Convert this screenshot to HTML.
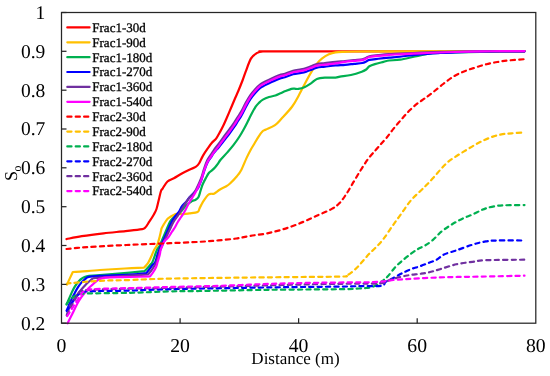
<!DOCTYPE html>
<html><head><meta charset="utf-8"><title>So vs Distance</title>
<style>
html,body{margin:0;padding:0;background:#fff;}
body{width:550px;height:376px;overflow:hidden;}
svg{display:block;font-family:"Liberation Serif","Times New Roman",serif;text-rendering:geometricPrecision;}
</style></head><body>
<svg width="550" height="376" viewBox="0 0 550 376">
<rect x="0" y="0" width="550" height="376" fill="#fff"/>
<g fill="none" stroke-width="2.20" stroke-linejoin="round">
<path d="M66.50,239.10 C69.05,238.62 75.62,237.17 81.80,236.20 C87.98,235.23 96.32,234.15 103.60,233.30 C110.88,232.45 119.43,231.77 125.50,231.10 C131.57,230.43 136.80,229.78 140.00,229.30 C143.20,228.82 143.15,229.47 144.70,228.20 C146.25,226.93 147.75,224.03 149.30,221.70 C150.85,219.37 152.80,216.32 154.00,214.20 C155.20,212.08 155.75,211.20 156.50,209.00 C157.25,206.80 157.75,204.00 158.50,201.00 C159.25,198.00 160.28,193.12 161.00,191.00 C161.72,188.88 161.72,189.88 162.80,188.30 C163.88,186.72 165.65,183.17 167.50,181.50 C169.35,179.83 171.50,179.63 173.90,178.30 C176.30,176.97 179.23,174.97 181.90,173.50 C184.57,172.03 187.60,170.60 189.90,169.50 C192.20,168.40 194.18,167.90 195.70,166.90 C197.22,165.90 197.78,165.38 199.00,163.50 C200.22,161.62 201.45,158.25 203.00,155.60 C204.55,152.95 206.75,149.82 208.30,147.60 C209.85,145.38 210.97,143.85 212.30,142.30 C213.63,140.75 214.98,140.08 216.30,138.30 C217.62,136.52 218.98,133.82 220.20,131.60 C221.42,129.38 222.57,127.15 223.60,125.00 C224.63,122.85 225.13,121.62 226.40,118.70 C227.67,115.78 229.73,110.95 231.20,107.50 C232.67,104.05 234.02,100.75 235.20,98.00 C236.38,95.25 237.05,94.00 238.30,91.00 C239.55,88.00 241.48,83.18 242.70,80.00 C243.92,76.82 244.23,75.47 245.60,71.90 C246.97,68.33 249.12,61.67 250.90,58.60 C252.68,55.53 254.30,54.68 256.30,53.50 C258.30,52.32 258.12,51.86 262.90,51.50 C267.68,51.14 241.40,51.38 285.00,51.35 C328.60,51.32 484.58,51.31 524.50,51.30" stroke="#FF0000" stroke-linecap="round"/>
<path d="M67.00,284.40 C67.97,282.33 72.80,272.00 72.80,272.00 C72.80,272.00 75.47,271.93 80.00,271.60 C84.53,271.27 92.50,270.52 100.00,270.00 C107.50,269.48 117.65,268.90 125.00,268.50 C132.35,268.10 144.10,267.60 144.10,267.60 C144.10,267.60 145.75,265.93 146.50,265.00 C147.25,264.07 147.77,263.50 148.60,262.00 C149.43,260.50 150.58,258.00 151.50,256.00 C152.42,254.00 153.15,251.83 154.10,250.00 C155.05,248.17 156.28,247.17 157.20,245.00 C158.12,242.83 158.88,239.75 159.60,237.00 C160.32,234.25 161.50,228.50 161.50,228.50 C161.50,228.50 162.78,225.92 163.80,224.30 C164.82,222.68 166.35,220.15 167.60,218.80 C168.85,217.45 169.98,217.00 171.30,216.20 C172.62,215.40 174.38,214.43 175.50,214.00 C176.62,213.57 176.65,213.58 178.00,213.60 C179.35,213.62 181.73,214.13 183.60,214.10 C185.47,214.07 186.87,213.77 189.20,213.40 C191.53,213.03 195.88,212.72 197.60,211.90 C199.32,211.08 198.88,209.67 199.50,208.50 C200.12,207.33 200.53,206.28 201.30,204.90 C202.07,203.52 202.98,201.85 204.10,200.20 C205.22,198.55 206.85,196.07 208.00,195.00 C209.15,193.93 210.00,194.02 211.00,193.80 C212.00,193.58 212.50,194.42 214.00,193.70 C215.50,192.98 218.02,190.70 220.00,189.50 C221.98,188.30 224.23,187.50 225.90,186.50 C227.57,185.50 228.20,185.17 230.00,183.50 C231.80,181.83 234.82,178.77 236.70,176.50 C238.58,174.23 239.65,173.00 241.30,169.90 C242.95,166.80 245.05,161.22 246.60,157.90 C248.15,154.58 249.27,152.43 250.60,150.00 C251.93,147.57 253.27,145.53 254.60,143.30 C255.93,141.07 257.27,138.60 258.60,136.60 C259.93,134.60 261.37,132.47 262.60,131.30 C263.83,130.13 263.93,130.63 266.00,129.60 C268.07,128.57 272.40,126.95 275.00,125.10 C277.60,123.25 278.73,121.60 281.60,118.50 C284.47,115.40 289.30,110.42 292.20,106.50 C295.10,102.58 296.65,99.27 299.00,95.00 C301.35,90.73 304.20,84.80 306.30,80.90 C308.40,77.00 309.83,74.48 311.60,71.60 C313.37,68.72 315.13,65.82 316.90,63.60 C318.67,61.38 320.20,59.85 322.20,58.30 C324.20,56.75 326.68,55.30 328.90,54.30 C331.12,53.30 332.82,52.72 335.50,52.30 C338.18,51.88 340.92,51.93 345.00,51.80 C349.08,51.67 350.83,51.58 360.00,51.50 C369.17,51.42 386.67,51.37 400.00,51.30 C413.33,51.23 419.25,51.15 440.00,51.10 C460.75,51.05 510.42,51.02 524.50,51.00" stroke="#FFC000" stroke-linecap="round"/>
<path d="M66.60,304.50 C66.83,303.92 67.53,302.08 68.00,301.00 C68.47,299.92 68.77,299.43 69.40,298.00 C70.03,296.57 71.00,294.13 71.80,292.40 C72.60,290.67 73.40,289.00 74.20,287.60 C75.00,286.20 75.80,285.10 76.60,284.00 C77.40,282.90 78.10,281.92 79.00,281.00 C79.90,280.08 80.72,279.28 82.00,278.50 C83.28,277.72 83.70,276.85 86.70,276.30 C89.70,275.75 92.78,275.82 100.00,275.20 C107.22,274.58 122.55,273.28 130.00,272.60 C137.45,271.92 144.70,271.10 144.70,271.10 C144.70,271.10 147.03,268.60 148.00,267.50 C148.97,266.40 149.75,265.42 150.50,264.50 C151.25,263.58 151.43,264.42 152.50,262.00 C153.57,259.58 155.72,252.67 156.90,250.00 C158.08,247.33 158.73,247.67 159.60,246.00 C160.47,244.33 161.25,242.00 162.10,240.00 C162.95,238.00 163.85,236.00 164.70,234.00 C165.55,232.00 166.35,230.00 167.20,228.00 C168.05,226.00 168.90,223.58 169.80,222.00 C170.70,220.42 171.57,219.58 172.60,218.50 C173.63,217.42 174.73,216.53 176.00,215.50 C177.27,214.47 178.62,213.83 180.20,212.30 C181.78,210.77 183.53,208.15 185.50,206.30 C187.47,204.45 190.38,202.25 192.00,201.20 C193.62,200.15 194.13,200.67 195.20,200.00 C196.27,199.33 197.52,198.72 198.40,197.20 C199.28,195.68 199.80,193.02 200.50,190.90 C201.20,188.78 201.72,186.63 202.60,184.50 C203.48,182.37 204.73,180.05 205.80,178.10 C206.87,176.15 207.93,174.13 209.00,172.80 C210.07,171.47 211.13,171.08 212.20,170.10 C213.27,169.12 214.43,167.97 215.40,166.90 C216.37,165.83 217.17,164.85 218.00,163.70 C218.83,162.55 218.80,161.93 220.40,160.00 C222.00,158.07 225.40,154.62 227.60,152.10 C229.80,149.58 231.62,147.50 233.60,144.90 C235.58,142.30 237.72,139.28 239.50,136.50 C241.28,133.72 242.88,130.78 244.30,128.20 C245.72,125.62 246.95,123.07 248.00,121.00 C249.05,118.93 249.35,118.17 250.60,115.80 C251.85,113.43 254.07,109.00 255.50,106.80 C256.93,104.60 257.97,103.80 259.20,102.60 C260.43,101.40 261.27,100.53 262.90,99.60 C264.53,98.67 266.92,97.68 269.00,97.00 C271.08,96.32 273.48,96.12 275.40,95.50 C277.32,94.88 278.82,94.03 280.50,93.30 C282.18,92.57 283.68,91.83 285.50,91.10 C287.32,90.37 289.90,89.30 291.40,88.90 C292.90,88.50 293.35,88.70 294.50,88.70 C295.65,88.70 296.57,89.20 298.30,88.90 C300.03,88.60 302.68,87.90 304.90,86.90 C307.12,85.90 309.60,84.23 311.60,82.90 C313.60,81.57 314.68,79.78 316.90,78.90 C319.12,78.02 321.80,77.82 324.90,77.60 C328.00,77.38 332.98,77.77 335.50,77.60 C338.02,77.43 337.43,77.03 340.00,76.60 C342.57,76.17 347.27,75.82 350.90,75.00 C354.53,74.18 359.25,72.62 361.80,71.70 C364.35,70.78 364.93,70.40 366.20,69.50 C367.47,68.60 367.95,67.20 369.40,66.30 C370.85,65.40 372.53,64.83 374.90,64.10 C377.27,63.37 381.23,62.50 383.60,61.90 C385.97,61.30 386.37,60.87 389.10,60.50 C391.83,60.13 395.68,60.37 400.00,59.70 C404.32,59.03 410.17,57.50 415.00,56.50 C419.83,55.50 424.83,54.30 429.00,53.70 C433.17,53.10 435.67,53.10 440.00,52.90 C444.33,52.70 448.33,52.68 455.00,52.50 C461.67,52.32 472.50,51.98 480.00,51.80 C487.50,51.62 492.58,51.48 500.00,51.40 C507.42,51.32 520.42,51.32 524.50,51.30" stroke="#00B050" stroke-linecap="round"/>
<path d="M66.70,310.50 C67.05,309.67 68.08,307.18 68.80,305.50 C69.52,303.82 69.97,302.58 71.00,300.40 C72.03,298.22 73.80,294.67 75.00,292.40 C76.20,290.13 77.13,288.43 78.20,286.80 C79.27,285.17 80.35,283.80 81.40,282.60 C82.45,281.40 83.27,280.55 84.50,279.60 C85.73,278.65 86.22,277.53 88.80,276.90 C91.38,276.27 93.13,276.18 100.00,275.80 C106.87,275.42 122.25,275.07 130.00,274.60 C137.75,274.13 146.50,273.00 146.50,273.00 C146.50,273.00 148.50,270.33 149.50,269.00 C150.50,267.67 151.53,266.17 152.50,265.00 C153.47,263.83 154.38,264.00 155.30,262.00 C156.22,260.00 157.15,255.50 158.00,253.00 C158.85,250.50 159.53,249.03 160.40,247.00 C161.27,244.97 162.27,242.88 163.20,240.80 C164.13,238.72 165.07,236.60 166.00,234.50 C166.93,232.40 167.87,230.28 168.80,228.20 C169.73,226.12 170.62,223.87 171.60,222.00 C172.58,220.13 173.52,218.67 174.70,217.00 C175.88,215.33 177.45,213.83 178.70,212.00 C179.95,210.17 180.90,207.75 182.20,206.00 C183.50,204.25 185.23,203.00 186.50,201.50 C187.77,200.00 187.97,199.11 189.80,197.00 C191.63,194.89 195.83,191.01 197.50,188.82 C199.17,186.62 199.12,185.42 199.80,183.84 C200.48,182.27 200.83,181.62 201.60,179.36 C202.37,177.10 203.42,173.12 204.40,170.29 C205.38,167.47 206.45,164.53 207.50,162.43 C208.55,160.32 209.63,159.25 210.70,157.66 C211.77,156.08 212.52,154.69 213.90,152.90 C215.28,151.11 217.28,149.01 219.00,146.93 C220.72,144.84 222.45,142.60 224.20,140.38 C225.95,138.15 227.83,135.83 229.50,133.60 C231.17,131.37 232.83,129.02 234.20,127.00 C235.57,124.98 236.48,123.42 237.70,121.50 C238.92,119.58 240.18,117.85 241.50,115.50 C242.82,113.15 244.12,110.12 245.60,107.40 C247.08,104.68 248.80,101.60 250.40,99.20 C252.00,96.80 253.60,94.83 255.20,93.00 C256.80,91.17 258.42,89.47 260.00,88.20 C261.58,86.93 262.77,86.43 264.70,85.40 C266.63,84.37 269.12,83.13 271.60,82.00 C274.08,80.87 277.38,79.38 279.60,78.60 C281.82,77.82 282.67,78.02 284.90,77.30 C287.13,76.58 290.32,75.03 293.00,74.30 C295.68,73.57 298.78,73.35 301.00,72.90 C303.22,72.45 304.53,72.15 306.30,71.60 C308.07,71.05 309.83,70.27 311.60,69.60 C313.37,68.93 314.68,68.08 316.90,67.60 C319.12,67.12 321.80,67.06 324.90,66.70 C328.00,66.34 332.15,65.77 335.50,65.45 C338.85,65.13 341.92,65.06 345.00,64.80 C348.08,64.54 351.12,64.16 354.00,63.86 C356.88,63.57 360.27,63.42 362.30,63.03 C364.33,62.64 365.02,62.04 366.20,61.52 C367.38,60.99 367.40,60.36 369.40,59.90 C371.40,59.44 374.92,59.15 378.20,58.77 C381.48,58.39 385.47,57.96 389.10,57.62 C392.73,57.29 394.85,57.29 400.00,56.74 C405.15,56.19 413.33,54.92 420.00,54.30 C426.67,53.68 434.17,53.31 440.00,53.00 C445.83,52.69 448.33,52.64 455.00,52.42 C461.67,52.21 472.50,51.85 480.00,51.70 C487.50,51.55 492.58,51.53 500.00,51.50 C507.42,51.47 520.42,51.50 524.50,51.50" stroke="#0000FF" stroke-linecap="round"/>
<path d="M66.90,315.50 C67.45,313.77 68.85,308.02 70.20,305.10 C71.55,302.18 73.53,300.12 75.00,298.00 C76.47,295.88 77.53,294.27 79.00,292.40 C80.47,290.53 82.35,288.43 83.80,286.80 C85.25,285.17 86.50,283.73 87.70,282.60 C88.90,281.47 90.03,280.73 91.00,280.00 C91.97,279.27 92.00,278.60 93.50,278.20 C95.00,277.80 93.92,278.03 100.00,277.60 C106.08,277.17 122.00,276.12 130.00,275.60 C138.00,275.08 148.00,274.50 148.00,274.50 C148.00,274.50 150.00,272.33 151.00,271.00 C152.00,269.67 153.08,268.00 154.00,266.50 C154.92,265.00 155.67,264.08 156.50,262.00 C157.33,259.92 158.25,256.33 159.00,254.00 C159.75,251.67 160.15,250.08 161.00,248.00 C161.85,245.92 163.07,243.67 164.10,241.50 C165.13,239.33 166.17,237.17 167.20,235.00 C168.23,232.83 169.25,230.67 170.30,228.50 C171.35,226.33 172.40,223.92 173.50,222.00 C174.60,220.08 175.78,218.67 176.90,217.00 C178.02,215.33 179.07,213.83 180.20,212.00 C181.33,210.17 182.57,207.83 183.70,206.00 C184.83,204.17 185.95,202.50 187.00,201.00 C188.05,199.50 188.83,198.32 190.00,197.00 C191.17,195.68 192.75,194.85 194.00,193.10 C195.25,191.36 196.53,188.46 197.50,186.52 C198.47,184.58 199.12,183.06 199.80,181.46 C200.48,179.87 200.83,179.21 201.60,176.92 C202.37,174.64 203.42,170.61 204.40,167.75 C205.38,164.90 206.45,161.92 207.50,159.78 C208.55,157.64 209.63,156.53 210.70,154.90 C211.77,153.28 212.52,151.94 213.90,150.03 C215.28,148.11 217.28,145.70 219.00,143.40 C220.72,141.10 222.45,138.57 224.20,136.20 C225.95,133.83 227.83,131.47 229.50,129.20 C231.17,126.93 232.83,124.62 234.20,122.60 C235.57,120.58 236.48,119.02 237.70,117.10 C238.92,115.18 240.18,113.44 241.50,111.10 C242.82,108.76 244.12,105.70 245.60,103.03 C247.08,100.36 248.80,97.40 250.40,95.09 C252.00,92.77 253.60,90.89 255.20,89.14 C256.80,87.40 258.42,85.82 260.00,84.60 C261.58,83.38 262.77,82.83 264.70,81.80 C266.63,80.77 269.12,79.53 271.60,78.40 C274.08,77.27 277.38,75.78 279.60,75.00 C281.82,74.22 282.67,74.42 284.90,73.70 C287.13,72.98 290.32,71.43 293.00,70.70 C295.68,69.97 298.78,69.75 301.00,69.30 C303.22,68.85 304.53,68.55 306.30,68.00 C308.07,67.45 309.83,66.67 311.60,66.00 C313.37,65.33 314.68,64.48 316.90,64.00 C319.12,63.52 321.80,63.46 324.90,63.10 C328.00,62.74 332.15,62.19 335.50,61.84 C338.85,61.49 341.92,61.29 345.00,61.00 C348.08,60.71 351.12,60.40 354.00,60.12 C356.88,59.85 360.27,59.72 362.30,59.35 C364.33,58.97 365.02,58.37 366.20,57.86 C367.38,57.34 367.40,56.71 369.40,56.27 C371.40,55.82 374.92,55.55 378.20,55.19 C381.48,54.83 385.47,54.38 389.10,54.12 C392.73,53.86 394.85,53.89 400.00,53.65 C405.15,53.41 413.33,52.99 420.00,52.70 C426.67,52.42 434.17,52.16 440.00,51.96 C445.83,51.76 448.33,51.59 455.00,51.50 C461.67,51.41 472.50,51.45 480.00,51.40 C487.50,51.35 492.58,51.23 500.00,51.20 C507.42,51.17 520.42,51.20 524.50,51.20" stroke="#7030A0" stroke-linecap="round"/>
<path d="M67.60,323.30 C68.33,321.83 70.37,317.80 72.00,314.50 C73.63,311.20 75.83,306.38 77.40,303.50 C78.97,300.62 80.22,298.92 81.40,297.20 C82.58,295.48 83.57,294.40 84.50,293.20 C85.43,292.00 86.07,291.07 87.00,290.00 C87.93,288.93 89.10,287.77 90.10,286.80 C91.10,285.83 92.13,284.97 93.00,284.20 C93.87,283.43 94.47,282.90 95.30,282.20 C96.13,281.50 97.10,280.60 98.00,280.00 C98.90,279.40 99.53,278.98 100.70,278.60 C101.87,278.22 103.45,277.92 105.00,277.70 C106.55,277.48 105.83,277.42 110.00,277.30 C114.17,277.18 123.32,277.17 130.00,277.00 C136.68,276.83 150.10,276.30 150.10,276.30 C150.10,276.30 152.00,274.05 153.00,272.50 C154.00,270.95 155.33,268.75 156.10,267.00 C156.87,265.25 157.00,264.00 157.60,262.00 C158.20,260.00 159.20,257.00 159.70,255.00 C160.20,253.00 160.25,251.33 160.60,250.00 C160.95,248.67 161.32,248.17 161.80,247.00 C162.28,245.83 162.97,244.08 163.50,243.00 C164.03,241.92 164.33,241.28 165.00,240.50 C165.67,239.72 166.78,239.05 167.50,238.30 C168.22,237.55 168.58,237.05 169.30,236.00 C170.02,234.95 170.93,233.33 171.80,232.00 C172.67,230.67 173.50,229.67 174.50,228.00 C175.50,226.33 176.70,223.83 177.80,222.00 C178.90,220.17 180.02,218.67 181.10,217.00 C182.18,215.33 183.25,213.83 184.30,212.00 C185.35,210.17 186.40,207.88 187.40,206.00 C188.40,204.12 189.20,202.53 190.30,200.70 C191.40,198.87 192.80,197.03 194.00,195.00 C195.20,192.97 196.53,190.42 197.50,188.50 C198.47,186.58 199.12,185.08 199.80,183.50 C200.48,181.92 200.83,181.27 201.60,179.00 C202.37,176.73 203.42,172.73 204.40,169.90 C205.38,167.07 206.45,164.12 207.50,162.00 C208.55,159.88 209.63,158.80 210.70,157.20 C211.77,155.60 212.52,154.30 213.90,152.40 C215.28,150.50 217.28,148.10 219.00,145.80 C220.72,143.50 222.45,140.97 224.20,138.60 C225.95,136.23 227.83,133.87 229.50,131.60 C231.17,129.33 232.83,127.02 234.20,125.00 C235.57,122.98 236.48,121.42 237.70,119.50 C238.92,117.58 240.18,115.85 241.50,113.50 C242.82,111.15 244.12,108.12 245.60,105.40 C247.08,102.68 248.80,99.60 250.40,97.20 C252.00,94.80 253.60,92.83 255.20,91.00 C256.80,89.17 258.42,87.47 260.00,86.20 C261.58,84.93 262.77,84.43 264.70,83.40 C266.63,82.37 269.12,81.13 271.60,80.00 C274.08,78.87 277.38,77.38 279.60,76.60 C281.82,75.82 282.67,76.02 284.90,75.30 C287.13,74.58 290.32,73.03 293.00,72.30 C295.68,71.57 298.78,71.35 301.00,70.90 C303.22,70.45 304.53,70.15 306.30,69.60 C308.07,69.05 309.83,68.27 311.60,67.60 C313.37,66.93 314.68,66.08 316.90,65.60 C319.12,65.12 321.80,65.07 324.90,64.70 C328.00,64.33 332.15,63.88 335.50,63.40 C338.85,62.92 341.92,62.22 345.00,61.80 C348.08,61.38 351.12,61.18 354.00,60.90 C356.88,60.62 360.27,60.48 362.30,60.10 C364.33,59.72 365.02,59.12 366.20,58.60 C367.38,58.08 367.40,57.45 369.40,57.00 C371.40,56.55 374.92,56.27 378.20,55.90 C381.48,55.53 385.47,55.07 389.10,54.80 C392.73,54.53 394.85,54.55 400.00,54.30 C405.15,54.05 413.33,53.60 420.00,53.30 C426.67,53.00 434.17,52.72 440.00,52.50 C445.83,52.28 448.33,52.18 455.00,52.00 C461.67,51.82 472.50,51.53 480.00,51.40 C487.50,51.27 492.58,51.23 500.00,51.20 C507.42,51.17 520.42,51.20 524.50,51.20" stroke="#FF00FF" stroke-linecap="round"/>
<path d="M66.50,249.00 C69.08,248.75 76.42,247.93 82.00,247.50 C87.58,247.07 93.67,246.77 100.00,246.40 C106.33,246.03 113.33,245.63 120.00,245.30 C126.67,244.97 131.67,244.75 140.00,244.40 C148.33,244.05 160.00,243.63 170.00,243.20 C180.00,242.77 191.97,242.27 200.00,241.80 C208.03,241.33 212.13,240.95 218.20,240.40 C224.27,239.85 231.10,239.25 236.40,238.50 C241.70,237.75 245.00,236.73 250.00,235.90 C255.00,235.07 260.95,234.58 266.40,233.50 C271.85,232.42 277.25,231.05 282.70,229.40 C288.15,227.75 293.63,225.78 299.10,223.60 C304.57,221.42 310.05,218.75 315.50,216.30 C320.95,213.85 327.75,211.15 331.80,208.90 C335.85,206.65 337.32,205.38 339.80,202.80 C342.28,200.22 344.35,196.97 346.70,193.40 C349.05,189.83 351.50,185.38 353.90,181.40 C356.30,177.42 358.70,173.28 361.10,169.50 C363.50,165.72 365.90,161.90 368.30,158.70 C370.70,155.50 373.38,152.75 375.50,150.30 C377.62,147.85 379.15,146.08 381.00,144.00 C382.85,141.92 384.60,140.23 386.60,137.80 C388.60,135.37 390.60,132.38 393.00,129.40 C395.40,126.42 398.35,122.95 401.00,119.90 C403.65,116.85 406.25,113.77 408.90,111.10 C411.55,108.43 414.23,106.03 416.90,103.90 C419.57,101.77 422.25,100.22 424.90,98.30 C427.55,96.38 429.75,94.78 432.80,92.40 C435.85,90.02 439.72,86.67 443.20,84.00 C446.68,81.33 450.13,78.53 453.70,76.40 C457.27,74.27 460.97,72.68 464.60,71.20 C468.23,69.72 471.87,68.67 475.50,67.50 C479.13,66.33 482.77,65.12 486.40,64.20 C490.03,63.28 493.65,62.62 497.30,62.00 C500.95,61.38 503.77,60.97 508.30,60.50 C512.83,60.03 521.80,59.42 524.50,59.20" stroke="#FF0000" stroke-dasharray="4.2 4.2" stroke-linecap="round"/>
<path d="M67.00,284.40 C67.57,284.20 64.90,283.80 70.40,283.20 C75.90,282.60 90.07,281.33 100.00,280.80 C109.93,280.27 118.33,280.37 130.00,280.00 C141.67,279.63 146.67,279.05 170.00,278.60 C193.33,278.15 241.67,277.63 270.00,277.30 C298.33,276.97 327.42,276.85 340.00,276.60 C352.58,276.35 343.83,276.30 345.50,275.80 C347.17,275.30 348.42,274.65 350.00,273.60 C351.58,272.55 353.40,270.97 355.00,269.50 C356.60,268.03 358.02,266.52 359.60,264.80 C361.18,263.08 362.90,261.03 364.50,259.20 C366.10,257.37 367.45,255.62 369.20,253.80 C370.95,251.98 372.70,250.67 375.00,248.30 C377.30,245.93 380.17,243.22 383.00,239.60 C385.83,235.98 388.92,230.97 392.00,226.60 C395.08,222.23 398.32,217.80 401.50,213.40 C404.68,209.00 407.90,203.98 411.10,200.20 C414.30,196.42 418.05,193.32 420.70,190.70 C423.35,188.08 424.85,186.70 427.00,184.50 C429.15,182.30 431.28,180.07 433.60,177.50 C435.92,174.93 438.47,171.72 440.90,169.10 C443.33,166.48 445.47,164.07 448.20,161.80 C450.93,159.53 454.27,157.47 457.30,155.50 C460.33,153.53 463.37,151.83 466.40,150.00 C469.43,148.17 472.48,146.17 475.50,144.50 C478.52,142.83 481.48,141.35 484.50,140.00 C487.52,138.65 490.57,137.37 493.60,136.40 C496.63,135.43 499.67,134.72 502.70,134.20 C505.73,133.68 508.17,133.60 511.80,133.30 C515.43,133.00 522.38,132.55 524.50,132.40" stroke="#FFC000" stroke-dasharray="4.2 4.2" stroke-linecap="round"/>
<path d="M66.60,304.00 C67.50,303.00 70.10,299.58 72.00,298.00 C73.90,296.42 75.83,295.25 78.00,294.50 C80.17,293.75 76.33,293.78 85.00,293.50 C93.67,293.22 115.83,293.15 130.00,292.80 C144.17,292.45 158.33,291.70 170.00,291.40 C181.67,291.10 183.33,291.27 200.00,291.00 C216.67,290.73 246.67,290.10 270.00,289.80 C293.33,289.50 325.17,289.42 340.00,289.20 C354.83,288.98 354.82,288.68 359.00,288.50 C363.18,288.32 362.93,288.35 365.10,288.10 C367.27,287.85 369.82,287.65 372.00,287.00 C374.18,286.35 376.37,285.28 378.20,284.20 C380.03,283.12 381.40,281.82 383.00,280.50 C384.60,279.18 385.68,278.60 387.80,276.30 C389.92,274.00 393.05,269.50 395.70,266.70 C398.35,263.90 401.03,261.77 403.70,259.50 C406.37,257.23 409.32,254.85 411.70,253.10 C414.08,251.35 415.78,250.27 418.00,249.00 C420.22,247.73 422.50,247.02 425.00,245.50 C427.50,243.98 430.33,242.17 433.00,239.90 C435.67,237.63 438.35,234.17 441.00,231.90 C443.65,229.63 446.25,228.03 448.90,226.30 C451.55,224.57 454.23,222.97 456.90,221.50 C459.57,220.03 462.25,218.68 464.90,217.50 C467.55,216.32 470.15,215.58 472.80,214.40 C475.45,213.22 478.43,211.47 480.80,210.40 C483.17,209.33 484.80,208.68 487.00,208.00 C489.20,207.32 491.20,206.75 494.00,206.30 C496.80,205.85 498.72,205.50 503.80,205.30 C508.88,205.10 521.05,205.13 524.50,205.10" stroke="#00B050" stroke-dasharray="4.2 4.2" stroke-linecap="round"/>
<path d="M66.80,311.00 C67.67,309.67 70.13,305.67 72.00,303.00 C73.87,300.33 75.67,296.92 78.00,295.00 C80.33,293.08 77.33,292.23 86.00,291.50 C94.67,290.77 116.00,290.98 130.00,290.60 C144.00,290.22 146.67,289.73 170.00,289.20 C193.33,288.67 241.67,287.83 270.00,287.40 C298.33,286.97 325.00,286.82 340.00,286.60 C355.00,286.38 353.07,286.23 360.00,286.10 C366.93,285.97 377.35,286.48 381.60,285.80 C385.85,285.12 383.37,283.38 385.50,282.00 C387.63,280.62 391.65,278.95 394.40,277.50 C397.15,276.05 399.25,274.68 402.00,273.30 C404.75,271.92 407.93,270.37 410.90,269.20 C413.87,268.03 416.75,267.38 419.80,266.30 C422.85,265.22 426.33,263.83 429.20,262.70 C432.07,261.57 434.53,260.87 437.00,259.50 C439.47,258.13 440.77,256.02 444.00,254.50 C447.23,252.98 451.62,252.05 456.40,250.40 C461.18,248.75 467.80,246.10 472.70,244.60 C477.60,243.10 481.70,242.08 485.80,241.40 C489.90,240.72 490.85,240.65 497.30,240.50 C503.75,240.35 519.97,240.50 524.50,240.50" stroke="#0000FF" stroke-dasharray="4.2 4.2" stroke-linecap="round"/>
<path d="M66.80,315.00 C67.67,313.33 70.13,308.33 72.00,305.00 C73.87,301.67 75.83,297.45 78.00,295.00 C80.17,292.55 76.33,291.37 85.00,290.30 C93.67,289.23 115.83,289.02 130.00,288.60 C144.17,288.18 146.67,288.35 170.00,287.80 C193.33,287.25 245.00,285.92 270.00,285.30 C295.00,284.68 305.00,284.38 320.00,284.10 C335.00,283.82 349.73,283.75 360.00,283.60 C370.27,283.45 376.43,283.88 381.60,283.20 C386.77,282.52 386.78,280.78 391.00,279.50 C395.22,278.22 402.12,276.43 406.90,275.50 C411.68,274.57 415.98,274.43 419.70,273.90 C423.42,273.37 425.82,273.08 429.20,272.30 C432.58,271.52 435.47,270.53 440.00,269.20 C444.53,267.87 450.95,265.53 456.40,264.30 C461.85,263.07 467.80,262.48 472.70,261.80 C477.60,261.12 477.17,260.55 485.80,260.20 C494.43,259.85 518.05,259.78 524.50,259.70" stroke="#7030A0" stroke-dasharray="4.2 4.2" stroke-linecap="round"/>
<path d="M67.30,316.00 C68.25,314.50 70.88,310.33 73.00,307.00 C75.12,303.67 78.17,298.62 80.00,296.00 C81.83,293.38 81.47,292.45 84.00,291.30 C86.53,290.15 87.53,289.63 95.20,289.10 C102.87,288.57 117.53,288.45 130.00,288.10 C142.47,287.75 155.00,287.38 170.00,287.00 C185.00,286.62 203.33,286.32 220.00,285.80 C236.67,285.28 253.33,284.42 270.00,283.90 C286.67,283.38 303.33,282.98 320.00,282.70 C336.67,282.42 359.08,282.47 370.00,282.20 C380.92,281.93 380.80,281.53 385.50,281.10 C390.20,280.67 389.12,280.22 398.20,279.60 C407.28,278.98 426.22,277.90 440.00,277.40 C453.78,276.90 466.82,276.88 480.90,276.60 C494.98,276.32 517.23,275.85 524.50,275.70" stroke="#FF00FF" stroke-dasharray="4.2 4.2" stroke-linecap="round"/>
</g>
<rect x="61.5" y="12.5" width="474.3" height="310.7" fill="none" stroke="#262626" stroke-width="1.25"/>
<line x1="61.5" y1="323.2" x2="66.5" y2="323.2" stroke="#262626" stroke-width="1.25"/>
<line x1="61.5" y1="284.4" x2="66.5" y2="284.4" stroke="#262626" stroke-width="1.25"/>
<line x1="61.5" y1="245.5" x2="66.5" y2="245.5" stroke="#262626" stroke-width="1.25"/>
<line x1="61.5" y1="206.7" x2="66.5" y2="206.7" stroke="#262626" stroke-width="1.25"/>
<line x1="61.5" y1="167.8" x2="66.5" y2="167.8" stroke="#262626" stroke-width="1.25"/>
<line x1="61.5" y1="129.0" x2="66.5" y2="129.0" stroke="#262626" stroke-width="1.25"/>
<line x1="61.5" y1="90.2" x2="66.5" y2="90.2" stroke="#262626" stroke-width="1.25"/>
<line x1="61.5" y1="51.3" x2="66.5" y2="51.3" stroke="#262626" stroke-width="1.25"/>
<line x1="61.5" y1="12.5" x2="66.5" y2="12.5" stroke="#262626" stroke-width="1.25"/>
<line x1="180.1" y1="323.2" x2="180.1" y2="318.2" stroke="#262626" stroke-width="1.25"/>
<line x1="298.6" y1="323.2" x2="298.6" y2="318.2" stroke="#262626" stroke-width="1.25"/>
<line x1="417.2" y1="323.2" x2="417.2" y2="318.2" stroke="#262626" stroke-width="1.25"/>
<g font-size="19.5" fill="#000" text-anchor="end">
<text x="45.25" y="329.55">0.2</text>
<text x="45.25" y="290.71">0.3</text>
<text x="45.25" y="251.87">0.4</text>
<text x="45.25" y="213.04">0.5</text>
<text x="45.25" y="174.20">0.6</text>
<text x="45.25" y="135.36">0.7</text>
<text x="45.25" y="96.52">0.8</text>
<text x="45.25" y="57.69">0.9</text>
<text x="45.25" y="18.85">1</text>
</g>
<g font-size="19.7" fill="#000" text-anchor="middle">
<text x="61.5" y="352.1">0</text>
<text x="180.1" y="352.1">20</text>
<text x="298.6" y="352.1">40</text>
<text x="417.2" y="352.1">60</text>
<text x="535.8" y="352.1">80</text>
</g>
<text x="295.5" y="364.2" font-size="17" text-anchor="middle" fill="#000">Distance (m)</text>
<text transform="translate(16.9,181) rotate(-90)" font-size="18" fill="#000">S<tspan font-size="12" dx="-0.5" dy="3.7">o</tspan></text>
<g font-size="13" fill="#000" stroke="#000" stroke-width="0.3">
<path d="M67.3,27.4 H89.6" stroke="#FF0000" stroke-width="2.2" stroke-linecap="round" fill="none"/>
<text x="92.3" y="31.7">Frac1-30d</text>
<path d="M67.3,42.3 H89.6" stroke="#FFC000" stroke-width="2.2" stroke-linecap="round" fill="none"/>
<text x="92.3" y="46.6">Frac1-90d</text>
<path d="M67.3,57.2 H89.6" stroke="#00B050" stroke-width="2.2" stroke-linecap="round" fill="none"/>
<text x="92.3" y="61.5">Frac1-180d</text>
<path d="M67.3,72.0 H89.6" stroke="#0000FF" stroke-width="2.2" stroke-linecap="round" fill="none"/>
<text x="92.3" y="76.3">Frac1-270d</text>
<path d="M67.3,86.9 H89.6" stroke="#7030A0" stroke-width="2.2" stroke-linecap="round" fill="none"/>
<text x="92.3" y="91.2">Frac1-360d</text>
<path d="M67.3,101.8 H89.6" stroke="#FF00FF" stroke-width="2.2" stroke-linecap="round" fill="none"/>
<text x="92.3" y="106.1">Frac1-540d</text>
<path d="M67.3,116.7 H89" stroke="#FF0000" stroke-width="2.2" stroke-dasharray="4.2 4.2" stroke-linecap="round" fill="none"/>
<text x="92.3" y="121.0">Frac2-30d</text>
<path d="M67.3,131.6 H89" stroke="#FFC000" stroke-width="2.2" stroke-dasharray="4.2 4.2" stroke-linecap="round" fill="none"/>
<text x="92.3" y="135.9">Frac2-90d</text>
<path d="M67.3,146.4 H89" stroke="#00B050" stroke-width="2.2" stroke-dasharray="4.2 4.2" stroke-linecap="round" fill="none"/>
<text x="92.3" y="150.7">Frac2-180d</text>
<path d="M67.3,161.3 H89" stroke="#0000FF" stroke-width="2.2" stroke-dasharray="4.2 4.2" stroke-linecap="round" fill="none"/>
<text x="92.3" y="165.6">Frac2-270d</text>
<path d="M67.3,176.2 H89" stroke="#7030A0" stroke-width="2.2" stroke-dasharray="4.2 4.2" stroke-linecap="round" fill="none"/>
<text x="92.3" y="180.5">Frac2-360d</text>
<path d="M67.3,191.1 H89" stroke="#FF00FF" stroke-width="2.2" stroke-dasharray="4.2 4.2" stroke-linecap="round" fill="none"/>
<text x="92.3" y="195.4">Frac2-540d</text>
</g>
</svg>
</body></html>
